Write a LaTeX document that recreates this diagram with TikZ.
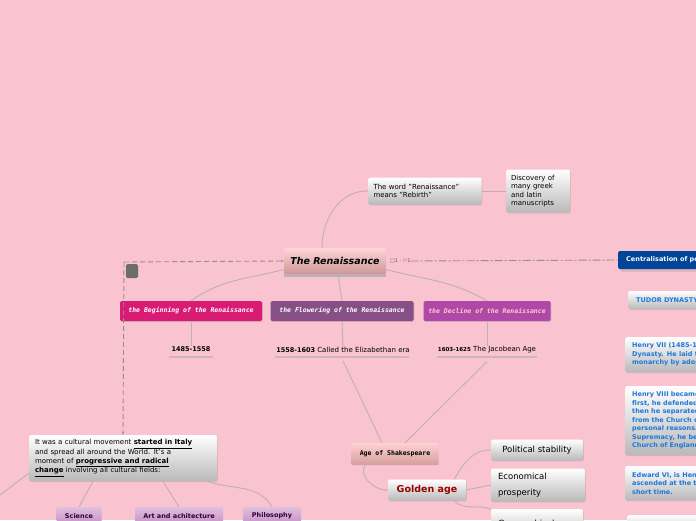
\documentclass[tikz,border=0pt]{standalone}
\usepackage{fontspec}
\setmainfont{DejaVu Sans}
\newfontfamily\fancy{DejaVu Sans Mono}
\usetikzlibrary{arrows.meta,shadows}
\definecolor{bg}{HTML}{F9C3CF}
\definecolor{ln}{HTML}{BDB0B4}
\definecolor{tb}{HTML}{1E78D8}
\tikzset{
 every node/.style={inner sep=0pt},
 gbox/.style={draw=none,rounded corners=1.5pt,top color=white,bottom color=gray!55,drop shadow={opacity=.25,shadow xshift=.8pt,shadow yshift=-.8pt},align=left,font=\fontsize{7}{8.5}\selectfont},
 branch/.style={rounded corners=1.5pt,minimum height=20pt,text=white,font=\fancy\itshape\bfseries\fontsize{6.5}{8}\selectfont,drop shadow={opacity=.25,shadow xshift=.8pt,shadow yshift=-.8pt}},
 sub/.style={rounded corners=1.5pt,top color=violet!25,bottom color=violet!45,font=\bfseries\fontsize{6.5}{8}\selectfont,text=violet!40!black},
 conn/.style={draw=ln,line width=.9pt},
 dconn/.style={draw=ln!80!black,line width=.9pt,dash pattern=on 5pt off 3pt},
 blue/.style={gbox,text=tb,font=\bfseries\fontsize{6.5}{8.5}\selectfont},
 date/.style={font=\fontsize{7}{8}\selectfont},
}
\begin{document}
\begin{tikzpicture}[x=1pt,y=-1pt]
\fill[bg] (0,0) rectangle (696,520);
\useasboundingbox (0,0) rectangle (696,520);
% nodes
\node[rounded corners=1pt,top color=pink!70!red!35,bottom color=red!35!gray!60,minimum width=102pt,minimum height=26pt,font=\itshape\bfseries\fontsize{9.5}{11}\selectfont] (root) at (335,261) {The Renaissance};
\fill[ln] (284,274) rectangle (386,277);
\node[font=\fontsize{5}{6}\selectfont,text=gray!70!black,anchor=west] (icons) at (390,261) {□1 · ⚐1};
\node[gbox,text width=103pt,inner xsep=5pt,minimum height=27pt] (reb) at (425,191) {The word "Renaissance"\\means "Rebirth"};
\node[gbox,text width=54pt,inner xsep=5pt,minimum height=43pt] (disc) at (538,191) {Discovery of\\many greek\\and latin\\manuscripts};
\node[branch,fill=magenta!80!red!90!black,minimum width=142pt] (beg) at (191,311) {the Beginning of the Renaissance};
\node[branch,fill=violet!45!gray!95!white,minimum width=143pt] (flo) at (342,311) {the Flowering of the Renaissance};
\node[branch,fill={rgb,255:red,176;green,72;blue,168},text=pink!80!white,minimum width=127pt] (dec) at (487,311) {the Decline of the Renaissance};
\node[date,font=\bfseries\fontsize{6.5}{8}\selectfont] (d1) at (191,349) {1485-1558};
\node[date] (d2) at (343,350) {\textbf{\fontsize{6.5}{8}\selectfont 1558-1603} Called the Elizabethan era};
\node[date] (d3) at (487,350) {\textbf{\fontsize{5.5}{7}\selectfont 1603-1625} The Jacobean Age};
\foreach \a/\b in {169/213,275/409,437/537}{\fill[ln!70!bg] (\a,356) rectangle (\b,357.5);}
\node[rounded corners=1pt,top color=pink!80!red!45,bottom color=red!40!gray!55,minimum width=87pt,minimum height=22pt,font=\fancy\bfseries\fontsize{6.5}{8}\selectfont] (age) at (395,454) {Age of Shakespeare};
\node[gbox,minimum width=78pt,minimum height=21pt,align=center,text=red!60!black,font=\bfseries\fontsize{9.5}{11}\selectfont] (gold) at (427,490) {Golden age};
\node[gbox,minimum width=92pt,minimum height=21pt,inner xsep=7pt,font=\fontsize{8.5}{10}\selectfont] (pol) at (537,450) {Political stability};
\node[gbox,minimum width=94pt,minimum height=33pt,text width=80pt,inner xsep=7pt,font=\fontsize{8.5}{16}\selectfont] (eco) at (538,485) {Economical\\prosperity};
\node[gbox,minimum width=92pt,minimum height=30pt,anchor=north,inner xsep=7pt,text width=78pt,font=\fontsize{8.5}{10}\selectfont] (geo) at (537,509) {Geographical\\};
\node[gbox,text width=176pt,inner xsep=6pt,minimum height=46pt] (cult) at (123,458) {It was a cultural movement \textbf{\underline{started in Italy}}\\and spread all around the World. It's a\\moment of \textbf{\underline{progressive and radical}}\\\textbf{\underline{change}} involving all cultural fields:};
\node[sub,minimum width=45pt,minimum height=18pt,anchor=north] (sci) at (79,507) {Science};
\node[sub,minimum width=88pt,minimum height=18pt,anchor=north] (art) at (179,507) {Art and achitecture};
\node[sub,minimum width=58pt,minimum height=18pt,anchor=north] (phi) at (272,507) {Philosophy};
\node[fill=gray!85!black,rounded corners=1.5pt,minimum width=12pt,minimum height=14pt] (sq) at (132,271) {};
\coordinate (corner) at (124,262);
\coordinate (lft) at (0,495);
\node[fill=blue!55!cyan!60!black,text=white,rounded corners=1.5pt,minimum height=18pt,anchor=west,inner xsep=8pt,font=\bfseries\fontsize{6.5}{8}\selectfont,drop shadow={opacity=.25}] (cen) at (618,260) {Centralisation of power};
\node[blue,anchor=west,minimum height=18pt,inner xsep=8pt] (tud) at (628,300) {TUDOR DYNASTY};
\node[blue,anchor=north west,minimum height=35pt,inner xsep=7pt] (h7) at (625,337) {Henry VII (1485-1509) founded the Tudor\\Dynasty. He laid the foundations of the\\monarchy by adopting ...};
\node[blue,anchor=north west,minimum height=69pt,inner xsep=7pt] (h8) at (625,386) {Henry VIII became king in 1509. At\\first, he defended the Catholic Church,\\then he separated the Church of England\\from the Church of Rome for political and\\personal reasons. With the Act of\\Supremacy, he became the head of the\\Church of England.};
\node[blue,anchor=north west,minimum height=34pt,inner xsep=7pt] (e6) at (625,466) {Edward VI, is Henry VIII's son, he\\ascended at the throne but reigned for a\\short time.};
\node[gbox,anchor=north west,minimum width=80pt,minimum height=20pt] (nx) at (627,515) {};
% connectors
\draw[conn,-{Stealth[length=3pt]}] ([xshift=-13pt]root.north) to[out=90,in=180] (reb.west);
\draw[conn] (reb.east) -- (disc.west);
\draw[conn] (root.west) ++(2,8) to[out=195,in=35] (beg.north);
\draw[conn] ([xshift=3pt]root.south) -- (flo.north);
\draw[conn] (root.east) ++(-2,8) to[out=-15,in=150] (dec.north);
\draw[conn] (beg.south) -- (d1.north);
\draw[conn] (flo.south) -- (d2.north);
\draw[conn] (dec.south) -- (d3.north);
\draw[conn] ([yshift=-8pt]d2.south) -- ([xshift=-13pt]age.north);
\draw[conn] ([yshift=-8pt]d3.south) -- ([xshift=10pt]age.north);
\draw[conn,-{Stealth[length=3pt]}] ([xshift=-30pt]age.south) to[out=-120,in=180] (gold.west);
\draw[conn] (gold.north east) ++(-12,0) to[out=60,in=180] (pol.west);
\draw[conn] (gold.east) -- (eco.west);
\draw[conn] (gold.south east) ++(-12,0) to[out=-45,in=160] (geo.north west);
\draw[dconn,-{Stealth[length=3pt]}] (corner) -- (root.west);
\draw[dconn,-{Stealth[length=3pt]}] (corner) -- (cult.north);
\draw[dconn,dash pattern=on 8pt off 2pt on 2pt off 2pt] (icons.east) -- (cen.west);
\draw[conn] (cult.south) ++(-30,0) -- (sci.north);
\draw[conn] ([xshift=40pt]cult.south) -- (art.north);
\draw[conn] (cult.south east) ++(-10,0) to[out=-20,in=120] (phi.north);
\draw[conn] (cult.south west) ++(0,-8) -- (lft);
\end{tikzpicture}
\end{document}
